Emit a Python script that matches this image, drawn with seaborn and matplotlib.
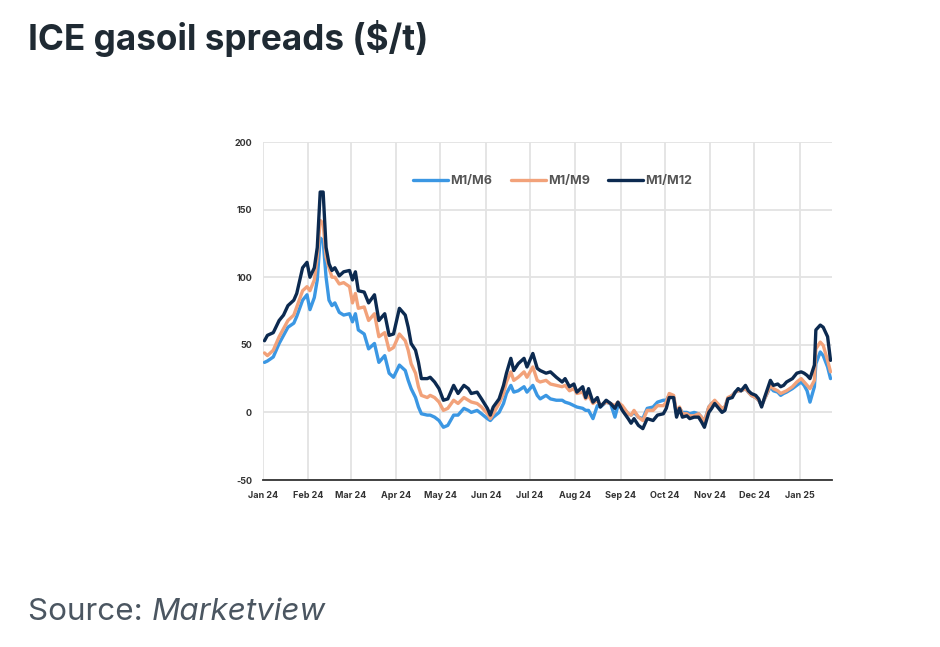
import matplotlib
matplotlib.use("Agg")
import matplotlib.pyplot as plt
import seaborn as sns
import pandas as pd
from matplotlib.lines import Line2D

# ---- data ----
dates = [
    "2024-01-02", "2024-01-04", "2024-01-08", "2024-01-12", "2024-01-15", "2024-01-18",
    "2024-01-22", "2024-01-24", "2024-01-28", "2024-01-31", "2024-02-02", "2024-02-05",
    "2024-02-07", "2024-02-09", "2024-02-11", "2024-02-13", "2024-02-15", "2024-02-17",
    "2024-02-19", "2024-02-22", "2024-02-25", "2024-02-29", "2024-03-02", "2024-03-04",
    "2024-03-06", "2024-03-10", "2024-03-13", "2024-03-17", "2024-03-20", "2024-03-24",
    "2024-03-27", "2024-03-30", "2024-04-03", "2024-04-07",
    "2024-04-09", "2024-04-11", "2024-04-14", "2024-04-16", "2024-04-18", "2024-04-22",
    "2024-04-24", "2024-04-27", "2024-04-30", "2024-05-03", "2024-05-06", "2024-05-10",
    "2024-05-13", "2024-05-17", "2024-05-20", "2024-05-22", "2024-05-26", "2024-05-29",
    "2024-06-02", "2024-06-04", "2024-06-06", "2024-06-10", "2024-06-13", "2024-06-15",
    "2024-06-18", "2024-06-20", "2024-06-23", "2024-06-27", "2024-06-29", "2024-07-03",
    "2024-07-06",
    "2024-07-08", "2024-07-12", "2024-07-15", "2024-07-19", "2024-07-23", "2024-07-25",
    "2024-07-28", "2024-07-31", "2024-08-02", "2024-08-06", "2024-08-08", "2024-08-10",
    "2024-08-13", "2024-08-16", "2024-08-18", "2024-08-22", "2024-08-25", "2024-08-28",
    "2024-08-30", "2024-09-02", "2024-09-06", "2024-09-08", "2024-09-10", "2024-09-13",
    "2024-09-16", "2024-09-19", "2024-09-23", "2024-09-26", "2024-09-30", "2024-10-02",
    "2024-10-04", "2024-10-07", "2024-10-09", "2024-10-11",
    "2024-10-13", "2024-10-16", "2024-10-18", "2024-10-21", "2024-10-24", "2024-10-26",
    "2024-10-28", "2024-10-31", "2024-11-02", "2024-11-04", "2024-11-06", "2024-11-09",
    "2024-11-11", "2024-11-13", "2024-11-16", "2024-11-18", "2024-11-20", "2024-11-22",
    "2024-11-25", "2024-11-27", "2024-11-29", "2024-12-02", "2024-12-04", "2024-12-06",
    "2024-12-08", "2024-12-12", "2024-12-14", "2024-12-17", "2024-12-19", "2024-12-21",
    "2024-12-23", "2024-12-27", "2024-12-30", "2025-01-02", "2025-01-04", "2025-01-06",
    "2025-01-08", "2025-01-11", "2025-01-12", "2025-01-15", "2025-01-17", "2025-01-20",
    "2025-01-22",
]

m1_m6 = [
    37, 38, 41, 51, 57, 63, 66, 71, 83, 87, 76, 85, 98, 129, 127, 100, 83, 79, 81, 74,
    72, 73, 67, 73, 61, 58, 47, 51, 37, 42, 29, 26, 35, 31,
    23.7, 17.6, 11, 4, -1, -2, -2, -3.5, -6, -11, -9.6, -2, -2, 3, 1.5, 0, 1.5, -1,
    -4.6, -6, -3.5, 0, 6.6, 14, 20, 15, 16, 19, 15, 20, 12.6,
    10, 12.6, 10, 9, 9, 7.6, 6.6, 5, 4, 3, 1.5, 1.5, -4.6, 5, 4, 7.6, 6.6, -3.5, 5, 4,
    -1, -2, 0, -3.5, -4.6, 3, 4, 7.6, 9, 9, 12.6, 11, -1, 3,
    0, 0, -1, 0, -1, -3.5, -7, 4, 6.6, 7.6, 5, 3, 4, 10, 12.6, 15, 16, 16, 17.6, 15,
    12.6, 11, 9, 5, 10, 19, 16, 15, 12.6, 14, 15, 17.6, 20, 22.5, 20, 16, 7.6, 19, 36,
    44.7, 42, 33.6, 25,
]

m1_m9 = [
    44, 42, 46, 56, 62, 68, 72, 78, 90, 93, 90, 98, 115, 142, 140, 115, 107, 100, 100,
    95, 96, 93, 81, 88, 77, 78, 68, 73, 56, 59, 46, 48, 58, 53,
    46, 36, 29, 19, 12.6, 11, 12.6, 11, 7.7, 1.5, 3, 9, 6.6, 11, 9, 7.7, 6.6, 4, -1,
    -4.6, -1, 6.6, 14, 22.5, 30, 23.7, 26, 30, 26, 33.6, 23.7,
    22.5, 23.7, 21, 20, 19, 20, 16, 17.6, 14, 15, 10, 12.6, 6.6, 9, 5, 7.6, 6.6, 5, 7.6,
    5, -1, -2, 1.5, -3.5, -6, 1.5, 1.5, 5, 5, 7.6, 14, 12.6, 0, 4,
    -1, -1, -2.5, -2.5, -1, -3.5, -7, 4, 6.6, 9, 6.6, 3, 4, 11, 12.6, 15, 16, 16, 17.6,
    15, 12.6, 11, 9, 5, 10, 20, 17.6, 16, 14, 15, 16, 19, 22.5, 25, 22.5, 20, 17.6,
    23.7, 47, 52, 49.6, 38.5, 30,
]

m1_m12 = [
    53, 57, 59, 68, 72, 79, 83, 88, 107, 111, 100, 107, 122, 163, 163, 122, 110, 105,
    107, 101, 104, 105, 98, 104, 90, 89, 81, 87, 68, 73, 57, 58, 77, 72,
    63, 51, 46, 37, 25, 25, 26, 22.5, 17.6, 9, 10, 20, 14, 20, 17.6, 14, 15, 10, 3, -2,
    4, 10, 20, 29, 40, 31, 36, 40, 33.6, 43.6, 32.6,
    31, 29, 30, 26, 22.5, 25, 19, 21, 15, 19, 11, 17.6, 7.6, 11, 4, 9, 6.6, 3, 7.6, 1.5,
    -4.6, -8, -4.6, -9.6, -12, -4.6, -6, -2, -1, 3, 11, 11, -3.5, 3,
    -3.5, -2.5, -4.6, -3.5, -3.5, -7, -11, 0, 3, 6.6, 4, 0, 1.5, 10, 11, 15, 17.6, 16,
    20, 16, 14, 12.6, 10, 4, 11, 23.7, 20, 21, 19, 20, 22.5, 25, 29, 30, 29, 27.4, 25,
    35, 61, 64.6, 63, 56, 38.5,
]

series_names = ["M1/M6", "M1/M9", "M1/M12"]
colors = {"M1/M6": "#3b97e3", "M1/M9": "#f2a27a", "M1/M12": "#0c2a50"}
month_ticks = pd.date_range("2024-01-01", "2025-01-01", freq="MS")
month_labels = [d.strftime("%b %y") for d in month_ticks]
y_ticks = [-50, 0, 50, 100, 150, 200]

# ---- build long table ----
dt = pd.to_datetime(dates)
df = pd.concat([
    pd.DataFrame({"date": dt, "value": m1_m6, "series": "M1/M6"}),
    pd.DataFrame({"date": dt, "value": m1_m9, "series": "M1/M9"}),
    pd.DataFrame({"date": dt, "value": m1_m12, "series": "M1/M12"}),
], ignore_index=True)

sns.set_theme(style="white")
plt.rcParams["font.family"] = ["Inter", "DejaVu Sans"]

fig = plt.figure(figsize=(9.4, 6.47), dpi=100)
ax = fig.add_axes([0.2798, 0.2581, 0.6053, 0.5224])

sns.lineplot(data=df, x="date", y="value", hue="series", hue_order=series_names,
             palette=colors, linewidth=2.4, ax=ax, legend=False)

ax.set_xlim(pd.Timestamp("2024-01-01"), pd.Timestamp("2025-01-23"))
ax.set_ylim(-50, 200)
ax.set_yticks(y_ticks)
ax.set_yticklabels([str(v) for v in y_ticks])
ax.set_xticks(month_ticks)
ax.set_xticklabels(month_labels)
ax.set_xlabel("")
ax.set_ylabel("")

ax.grid(True, color="#e3e3e3", linewidth=1.3)
ax.set_axisbelow(True)
for s in ["top", "right", "left"]:
    ax.spines[s].set_visible(False)
ax.spines["bottom"].set_color("#333333")
ax.spines["bottom"].set_linewidth(1.3)

ax.tick_params(axis="x", length=3, width=1, color="#333333", pad=5,
               labelsize=6.5, labelcolor="#333333")
ax.tick_params(axis="y", length=0, pad=8, labelsize=6.5, labelcolor="#333333")
for lab in ax.get_xticklabels() + ax.get_yticklabels():
    lab.set_fontweight("bold")

handles = [Line2D([0], [0], color=colors[n], linewidth=2.4) for n in series_names]
leg = ax.legend(handles, series_names, loc="center", bbox_to_anchor=(0.509, 0.885),
                ncol=3, frameon=False, handlelength=2.8, handletextpad=0.15,
                columnspacing=1.5, prop={"size": 9, "weight": "bold"})
for t in leg.get_texts():
    t.set_color("#555555")

fig.text(0.030, 0.940, "ICE gasoil spreads ($/t)", fontsize=25.3, fontweight="bold",
         color="#1f2a33", ha="left", va="center")

src = fig.text(0.030, 0.054, "Source: ", fontsize=22.6, color="#4b5661",
               ha="left", va="center")
fig.canvas.draw()
bb = src.get_window_extent(renderer=fig.canvas.get_renderer())
x2 = bb.x1 / fig.bbox.width
fig.text(x2, 0.054, "Marketview", fontsize=22.6, color="#4b5661", style="italic",
         ha="left", va="center")

fig.savefig("out.png", dpi=100)
